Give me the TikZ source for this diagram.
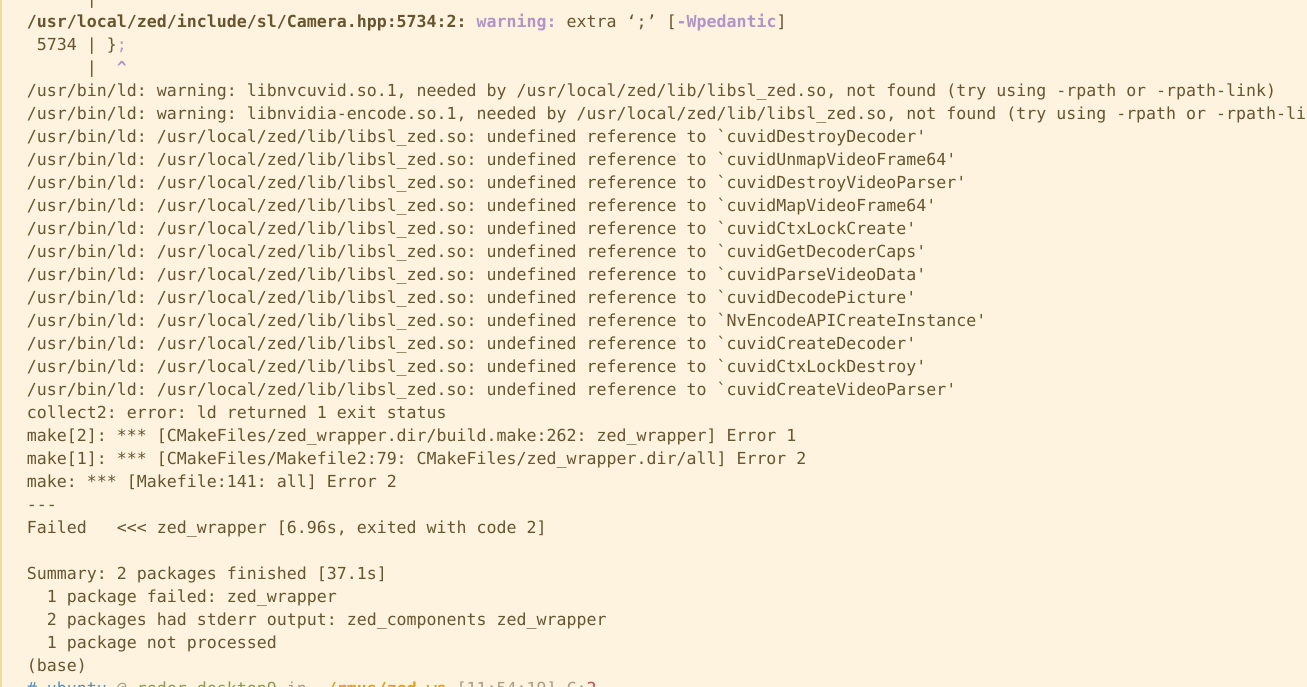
\documentclass[tikz,border=0pt]{standalone}
\usepackage{fontspec}
\setmonofont{DejaVu Sans Mono}
\definecolor{bgc}{HTML}{FDF3DF}
\definecolor{edge}{HTML}{F3D9A6}
\definecolor{ink}{HTML}{68552E}
\definecolor{pur}{HTML}{B294C8}
\definecolor{blu}{HTML}{4F8FC4}
\definecolor{grn}{HTML}{8A9A4A}
\definecolor{org}{HTML}{E0A020}
\definecolor{rdd}{HTML}{D0454C}
\definecolor{gry}{HTML}{A89C84}
\tikzset{lin/.style={anchor=base west,inner sep=0pt,outer sep=0pt,yshift=0.7pt,text=ink,font=\ttfamily\fontsize{16.6}{20}\selectfont}}
\begin{document}
\begin{tikzpicture}[x=1pt,y=-1pt]
\useasboundingbox (0,0) rectangle (1307,687);
\fill[bgc] (0,0) rectangle (1307,687);
\fill[edge] (0,0) rectangle (1.5,687);
\clip (0,0) rectangle (1307,687);
\node[lin] (l0) at (27,5) {\ \ \ \ \ \ |};
\node[lin] (l1) at (27,28) {\textbf{/usr/local/zed/include/sl/Camera.hpp:5734:2:} \textcolor{pur}{\textbf{warning:}} extra ‘;’ [\textcolor{pur}{\textbf{-Wpedantic}}]};
\node[lin] (l2) at (27,51) {\ 5734 | \}\textcolor{pur}{;}};
\node[lin] (l3) at (27,74) {\ \ \ \ \ \ | \ \textcolor{pur}{\textbf{\char`\^}}};
\node[lin] (l4) at (27,97) {/usr/bin/ld: warning: libnvcuvid.so.1, needed by /usr/local/zed/lib/libsl\_zed.so, not found (try using -rpath or -rpath-link)};
\node[lin] (l5) at (27,120) {/usr/bin/ld: warning: libnvidia-encode.so.1, needed by /usr/local/zed/lib/libsl\_zed.so, not found (try using -rpath or -rpath-link)};
\foreach \n/\y/\s in {a/143/cuvidDestroyDecoder,b/166/cuvidUnmapVideoFrame64,c/189/cuvidDestroyVideoParser,d/212/cuvidMapVideoFrame64,e/235/cuvidCtxLockCreate,f/258/cuvidGetDecoderCaps,g/281/cuvidParseVideoData,h/304/cuvidDecodePicture,i/327/NvEncodeAPICreateInstance,j/350/cuvidCreateDecoder,k/373/cuvidCtxLockDestroy,m/396/cuvidCreateVideoParser}{
\node[lin] (r\n) at (27,\y) {/usr/bin/ld: /usr/local/zed/lib/libsl\_zed.so: undefined reference to `\s'};
}
\node[lin] (c1) at (27,419) {collect2: error: ld returned 1 exit status};
\node[lin] (c2) at (27,442) {make[2]: *** [CMakeFiles/zed\_wrapper.dir/build.make:262: zed\_wrapper] Error 1};
\node[lin] (c3) at (27,465) {make[1]: *** [CMakeFiles/Makefile2:79: CMakeFiles/zed\_wrapper.dir/all] Error 2};
\node[lin] (c4) at (27,488) {make: *** [Makefile:141: all] Error 2};
\node[lin] (c5) at (27,511) {-{}-{}-};
\node[lin] (c6) at (27,534) {Failed \ \ <{}<{}< zed\_wrapper [6.96s, exited with code 2]};
\node[lin] (s1) at (27,580) {Summary: 2 packages finished [37.1s]};
\node[lin] (s2) at (27,603) {\ \ 1 package failed: zed\_wrapper};
\node[lin] (s3) at (27,626) {\ \ 2 packages had stderr output: zed\_components zed\_wrapper};
\node[lin] (s4) at (27,649) {\ \ 1 package not processed};
\node[lin] (s5) at (27,672) {(base)};
\node[lin] (p) at (27,695) {\textcolor{blu}{\# ubuntu} \textcolor{gry}{@} \textcolor{grn}{reder-desktop9} \textcolor{gry}{in} \textcolor{org}{\textbf{\textasciitilde/rmus/zed\_ws}} \textcolor{gry}{[11:54:19] C:}\textcolor{rdd}{2}};
\end{tikzpicture}
\end{document}
